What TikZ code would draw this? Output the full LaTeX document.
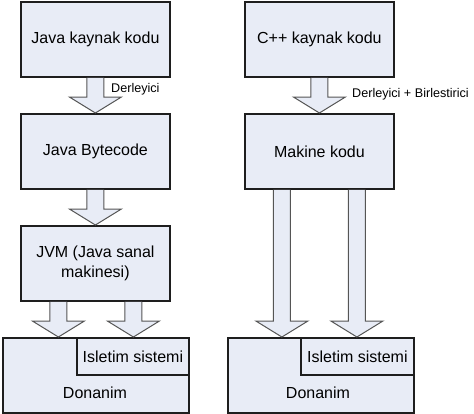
\documentclass[tikz,border=0pt]{standalone}
\usepackage{fontspec}
\setmainfont{Liberation Sans}
\usetikzlibrary{calc}
\definecolor{boxfill}{RGB}{232,236,246}
\definecolor{boxline}{RGB}{30,30,30}
\definecolor{arrline}{RGB}{85,85,85}
\tikzset{
  box/.style={draw=boxline, fill=boxfill, line width=1.8bp, anchor=north west, inner sep=0pt},
  txt/.style={font=\fontsize{16bp}{20bp}\selectfont, align=center, inner sep=0pt},
  lbl/.style={font=\fontsize{12.6bp}{14bp}\selectfont, anchor=west, inner sep=0pt},
  arr/.style={draw=arrline, fill=boxfill, line width=1bp, line join=miter}
}
\newcommand\barrow[2]{%
  \draw[arr] let \p1=#1, \p2=#2 in
    (\x1-8.5bp,\y1) -- (\x1-8.5bp,\y2+16bp) -- (\x1-26bp,\y2+16bp) -- (\x1,\y2)
    -- (\x1+26bp,\y2+16bp) -- (\x1+8.5bp,\y2+16bp) -- (\x1+8.5bp,\y1);}
\begin{document}
\begin{tikzpicture}[x=1bp,y=-1bp]
\useasboundingbox (0,0) rectangle (474,413);
% left column boxes
\node[box, minimum width=149bp, minimum height=75bp] (jsrc) at (20,1) {};
\node[txt] (jsrct) at (jsrc.center) {Java kaynak kodu};
\node[box, minimum width=149bp, minimum height=75bp] (jbc) at (20,113) {};
\node[txt] (jbct) at (jbc.center) {Java Bytecode};
\node[box, minimum width=149bp, minimum height=75bp] (jvm) at (20,225) {};
\node[txt] (jvmt) at (jvm.center) {JVM (Java sanal\\makinesi)};
\node[box, minimum width=186bp, minimum height=75bp] (hwl) at (2,337) {};
\node[box, minimum width=112bp, minimum height=37bp] (osl) at (76,337) {};
\node[txt] (hwlt) at (95,393) {Donanim};
\node[txt] (oslt) at (osl.center) {Isletim sistemi};
% right column boxes
\node[box, minimum width=149bp, minimum height=75bp] (csrc) at (244,1) {};
\node[txt] (csrct) at (csrc.center) {C++ kaynak kodu};
\node[box, minimum width=149bp, minimum height=75bp] (mk) at (244,113) {};
\node[txt] (mkt) at (mk.center) {Makine kodu};
\node[box, minimum width=186bp, minimum height=75bp] (hwr) at (227,337) {};
\node[box, minimum width=113bp, minimum height=37bp] (osr) at (300,337) {};
\node[txt] (hwrt) at (318,393) {Donanim};
\node[txt] (osrt) at (osr.center) {Isletim sistemi};
% block arrows
\barrow{(jsrc.south)}{(jbc.north)}
\barrow{(jbc.south)}{(jvm.north)}
\barrow{([xshift=-37bp]jvm.south)}{([xshift=-37bp]jvm.south |- hwl.north)}
\barrow{([xshift=38bp]jvm.south)}{([xshift=38bp]jvm.south |- osl.north)}
\barrow{(csrc.south)}{(mk.north)}
\barrow{([xshift=-37.5bp]mk.south)}{([xshift=-37.5bp]mk.south |- hwr.north)}
\barrow{([xshift=37.5bp]mk.south)}{([xshift=37.5bp]mk.south |- osr.north)}
% labels
\node[lbl] (l1) at (111,89) {Derleyici};
\node[lbl] (l2) at (352,94) {Derleyici + Birlestirici};
\end{tikzpicture}
\end{document}
